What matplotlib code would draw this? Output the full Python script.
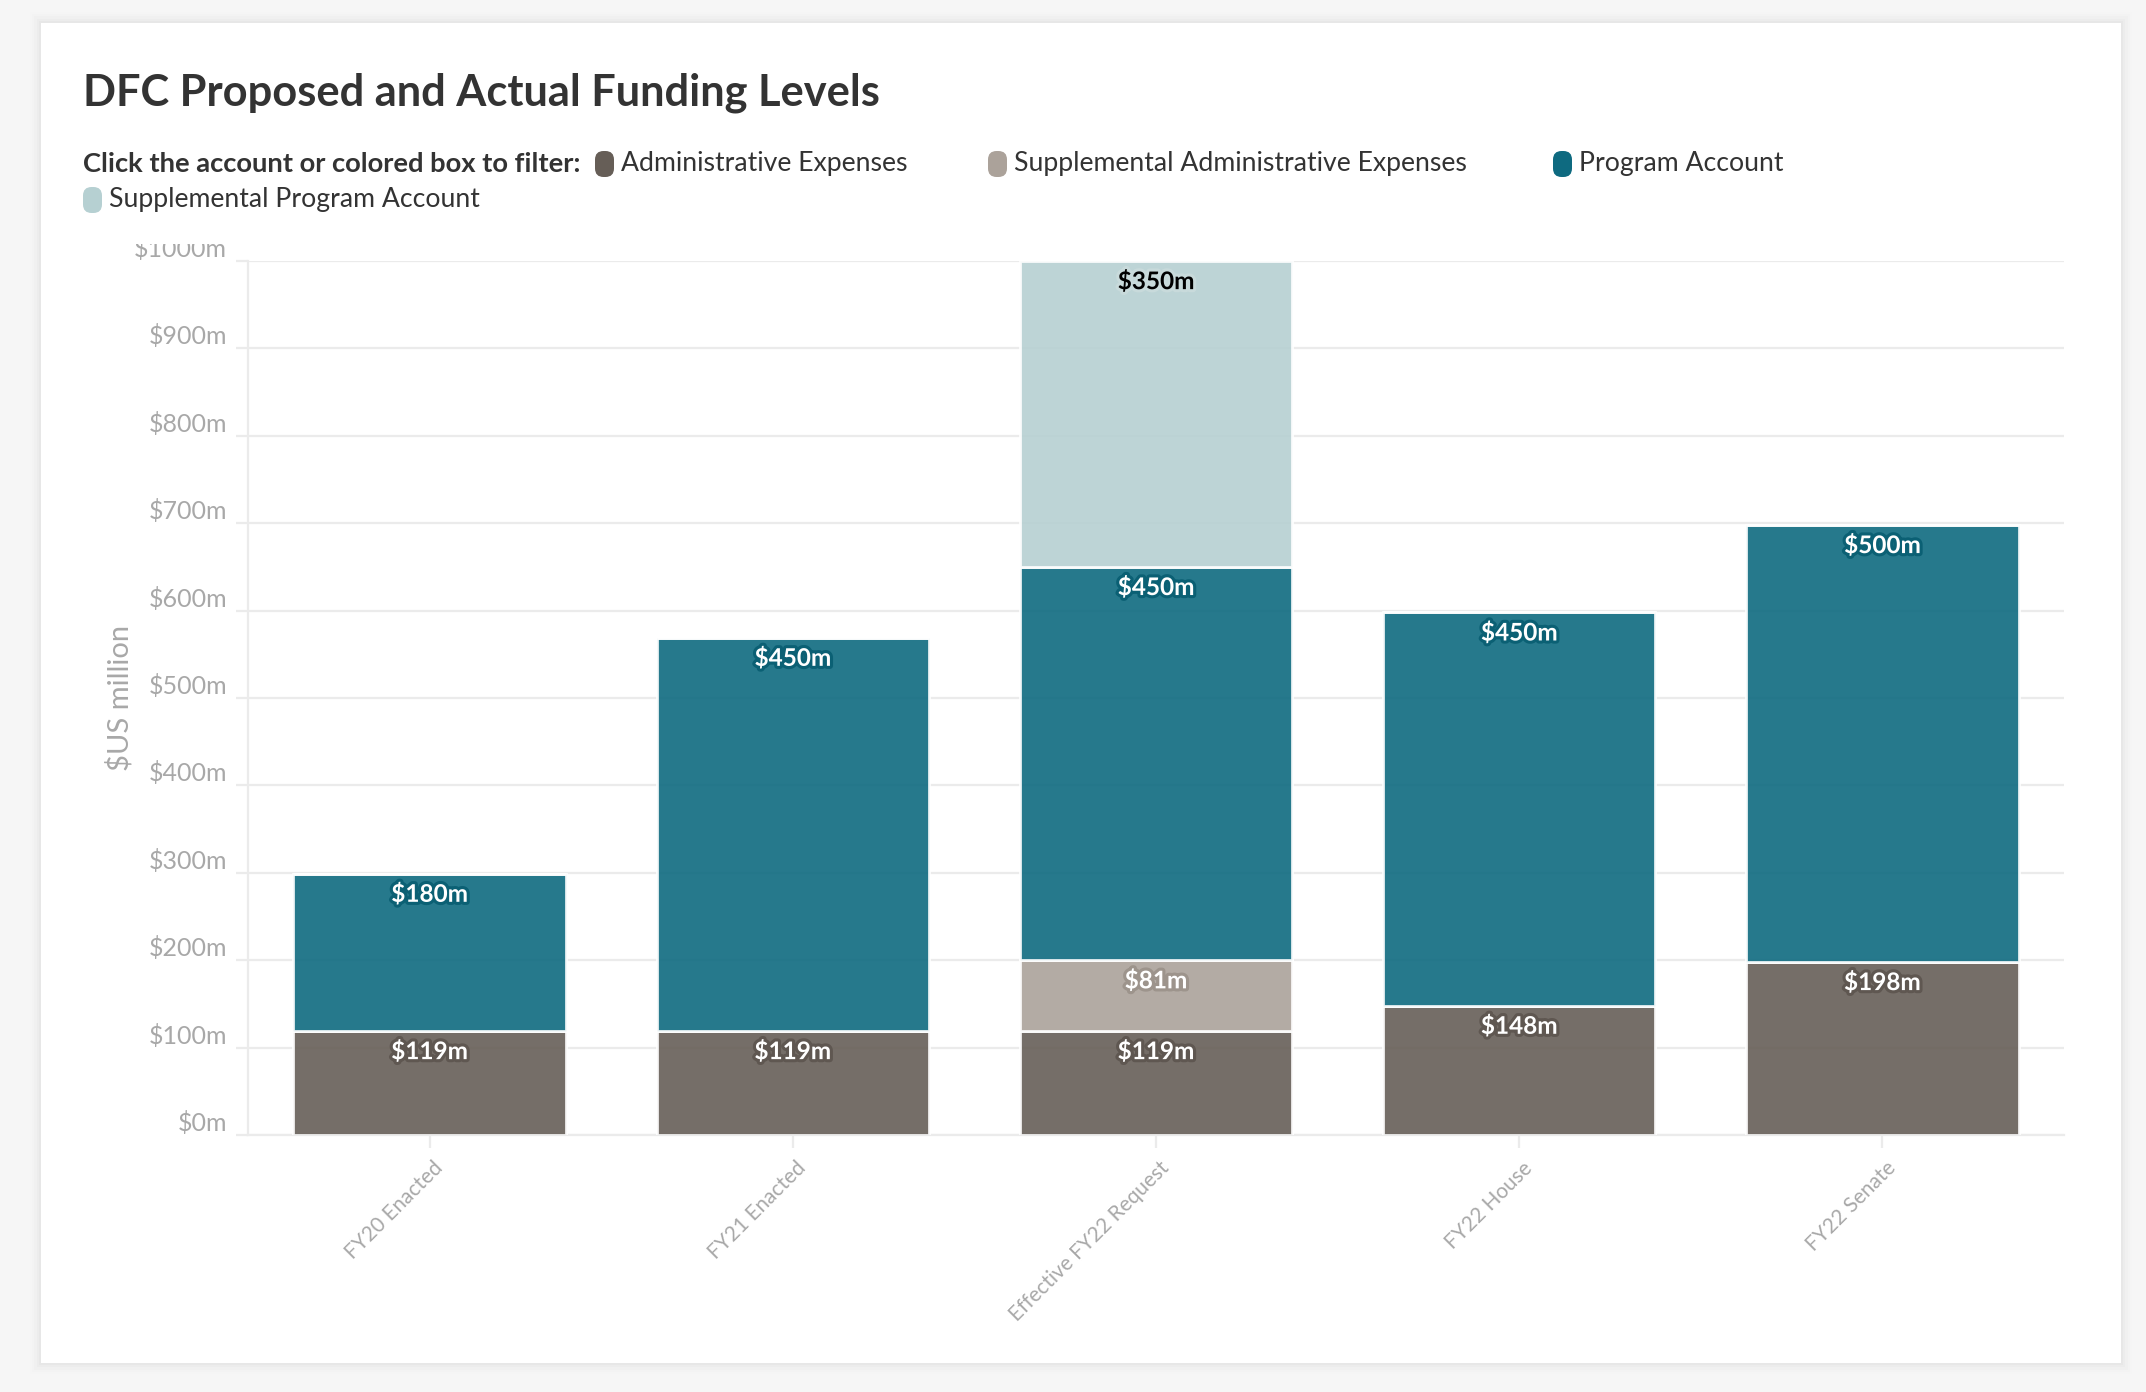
import matplotlib
matplotlib.use("Agg")
import matplotlib.pyplot as plt
import matplotlib.patheffects as pe
from matplotlib.patches import FancyBboxPatch, Rectangle
from matplotlib.transforms import ScaledTranslation, Bbox
import numpy as np

plt.rcParams['font.family'] = ['Lato', 'DejaVu Sans']

# ---------------- data ----------------
categories = ['FY20 Enacted', 'FY21 Enacted', 'Effective FY22 Request', 'FY22 House', 'FY22 Senate']
admin = [119, 119, 119, 148, 198]
supp_admin = [0, 0, 81, 0, 0]
program = [180, 450, 450, 450, 500]
supp_program = [0, 0, 350, 0, 0]
series_names = ['Administrative Expenses', 'Supplemental Administrative Expenses',
                'Program Account', 'Supplemental Program Account']
yticks = [0, 100, 200, 300, 400, 500, 600, 700, 800, 900, 1000]
ytick_labels = ['$0m', '$100m', '$200m', '$300m', '$400m', '$500m', '$600m',
                '$700m', '$800m', '$900m', '$1000m']

colors = ['#665e57', '#aba29a', '#0e6a80', '#b6d0d2']
halo = ['#5f5751', '#9d948c', '#0b6074', '#c8dadb']
txtcol = ['white', 'white', 'white', 'black']

W, H, DPI = 2146, 1392, 100
fig = plt.figure(figsize=(W / DPI, H / DPI), dpi=DPI, facecolor='#f6f6f6')

def px(x, y):
    """pixel (from top-left) to figure fraction"""
    return x / W, 1 - y / H

# card with soft shadow
for i, a in enumerate([0.018, 0.014, 0.010, 0.007, 0.004]):
    d = (i + 1) * 2.2
    fig.patches.append(Rectangle(((41 - d) / W, 1 - (1363 + d) / H), (2080 + 2 * d) / W,
                                 (1340 + 2 * d) / H, transform=fig.transFigure,
                                 facecolor='black', alpha=a, edgecolor='none', zorder=0))
fig.patches.append(Rectangle((41 / W, 1 - 1363 / H), 2080 / W, 1340 / H,
                             transform=fig.transFigure, facecolor='white',
                             edgecolor='none', zorder=1))

# title
fig.text(*px(83, 93), 'DFC Proposed and Actual Funding Levels', fontsize=31.2,
         fontweight='bold', color='#333333', va='center', ha='left', zorder=5)

# legend
fig.text(*px(83, 164), 'Click the account or colored box to filter:', fontsize=19.7,
         fontweight='bold', color='#333333', va='center', ha='left', zorder=5)
legend_pos = [(595, 164), (988, 164), (1553, 164), (83, 200)]
for (lx, ly), name, c in zip(legend_pos, series_names, colors):
    bw, bh = 19, 26
    fig.patches.append(FancyBboxPatch((lx / W, 1 - (ly + bh / 2) / H), bw / W, bh / H,
                                      boxstyle='round,pad=0,rounding_size=0.004',
                                      transform=fig.transFigure, facecolor=c,
                                      edgecolor='none', zorder=5, mutation_aspect=W / H))
    fig.text(*px(lx + 26, ly), name, fontsize=19.2, color='#333333',
             va='center', ha='left', zorder=5)

# axes
ax = fig.add_axes([248 / W, 257 / H, (2064 - 248) / W, (1135 - 261) / H])
ax.set_zorder(3)
ax.patch.set_alpha(0)
x = np.arange(len(categories))
grid_c = '#ebebeb'

bottoms = np.zeros(len(categories))
stack = [admin, supp_admin, program, supp_program]
for si, vals in enumerate(stack):
    vals = np.array(vals, dtype=float)
    ax.bar(x, vals, bottom=bottoms, width=0.75, color=colors[si], alpha=0.9,
           edgecolor='white', linewidth=2.0, zorder=3)
    for xi, v, b in zip(x, vals, bottoms):
        if v > 0:
            ax.annotate(f'${int(v)}m', (xi, b + v), xytext=(0, -14.5),
                        textcoords='offset points', ha='center', va='center',
                        fontsize=17.5, fontweight='bold', color=txtcol[si], zorder=6,
                        path_effects=[pe.withStroke(linewidth=4.5, foreground=halo[si])])
    bottoms = bottoms + vals

ax.set_xlim(-0.5, 4.5)
ax.set_ylim(0, 1000)
ax.set_yticks(yticks)
ax.set_yticklabels(ytick_labels)
ax.grid(axis='y', color=grid_c, linewidth=1.6, zorder=0)
ax.set_axisbelow(True)
for s in ['top', 'right']:
    ax.spines[s].set_visible(False)
ax.spines['left'].set_color(grid_c)
ax.spines['left'].set_linewidth(1.6)
ax.spines['bottom'].set_color(grid_c)
ax.spines['bottom'].set_linewidth(1.6)
ax.tick_params(axis='y', length=9, width=1.6, color=grid_c, labelcolor='#a8a8a8',
               labelsize=18, pad=6)
ax.tick_params(axis='x', length=9, width=1.6, color=grid_c, labelcolor='#a8a8a8',
               labelsize=15, pad=4)
ax.set_xticks(x)
ax.set_xticklabels(categories, rotation=45, ha='right', va='top', rotation_mode='anchor')
for lab in ax.get_xticklabels():
    lab.set_transform(lab.get_transform() + ScaledTranslation(0.03, -0.05, fig.dpi_scale_trans))

fig.canvas.draw()
for lab in ax.get_yticklabels():
    lab.set_transform(lab.get_transform() + ScaledTranslation(0, 0.14, fig.dpi_scale_trans))
# the top tick label is cut off by the frame edge in the original
top_lab = ax.get_yticklabels()[-1]
top_lab.set_clip_on(True)
top_lab.set_clip_box(Bbox([[0, 0], [W, H - 244]]))

ax.set_ylabel('$US million', fontsize=21, color='#a8a8a8')
ax.yaxis.label.set_va('center')
ax.yaxis.set_label_coords(-(248 - 120) / (2064 - 248), 0.5)

fig.savefig('out.png', dpi=DPI, facecolor=fig.get_facecolor())
